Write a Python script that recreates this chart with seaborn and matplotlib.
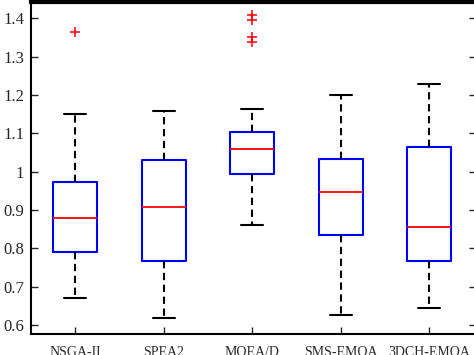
import numpy as np
import pandas as pd
import matplotlib
matplotlib.use("Agg")
import matplotlib.pyplot as plt
import seaborn as sns

categories = ["NSGA-II", "SPEA2", "MOEA/D", "SMS-EMOA", "3DCH-EMOA"]

nsga2 = [0.672, 0.74, 0.791, 0.84, 0.878, 0.93, 0.974, 1.151, 1.364]
spea2 = [0.618, 0.70, 0.768, 0.85, 0.908, 0.97, 1.030, 1.10, 1.159]
moead = [0.860, 0.90, 0.94, 0.96, 0.98, 0.993, 1.01, 1.02, 1.035, 1.05, 1.060,
         1.07, 1.08, 1.09, 1.10, 1.104, 1.163, 1.337, 1.352, 1.395, 1.408]
smsemoa = [0.627, 0.75, 0.834, 0.90, 0.948, 0.99, 1.032, 1.12, 1.200]
dch = [0.646, 0.71, 0.768, 0.81, 0.855, 0.96, 1.065, 1.15, 1.229]

yticks = [0.6, 0.7, 0.8, 0.9, 1.0, 1.1, 1.2, 1.3, 1.4]
ytick_labels = ["0.6", "0.7", "0.8", "0.9", "1", "1.1", "1.2", "1.3", "1.4"]

groups = [nsga2, spea2, moead, smsemoa, dch]
df = pd.DataFrame({
    "algorithm": np.concatenate([[c] * len(g) for c, g in zip(categories, groups)]),
    "value": np.concatenate(groups),
})

sns.set_style("white")
plt.rcParams["font.family"] = ["Liberation Serif", "DejaVu Serif"]

fig = plt.figure(figsize=(4.74, 3.55), dpi=100)
ax = fig.add_axes([31 / 474, 21 / 355, 445 / 474, 332 / 355])

sns.boxplot(
    data=df, x="algorithm", y="value", order=categories, ax=ax,
    width=0.5, fill=False, color="blue", linewidth=1.5, whis=1.5,
    boxprops=dict(color="blue", linewidth=1.5),
    medianprops=dict(color="red", linewidth=1.3),
    whiskerprops=dict(color="black", linestyle=(0, (3.5, 2.2)), linewidth=1.5),
    capprops=dict(color="black", linewidth=1.5),
    flierprops=dict(marker="+", markeredgecolor="red", markerfacecolor="red",
                    markersize=7, markeredgewidth=1.1),
)

ax.set_xlim(-0.5, 4.53)
ax.set_ylim(0.577, 1.442)
ax.set_yticks(yticks)
ax.set_yticklabels(ytick_labels)
ax.set_xlabel("")
ax.set_ylabel("")

for side in ["left", "bottom", "right"]:
    ax.spines[side].set_linewidth(1.5)
    ax.spines[side].set_color("black")
ax.spines["top"].set_linewidth(3)
ax.spines["top"].set_color("black")

ax.tick_params(axis="y", which="both", direction="in", left=True, right=True,
               length=5, width=1, labelsize=12, pad=5)
ax.tick_params(axis="x", which="both", direction="in", bottom=True, top=False,
               length=5, width=1, labelsize=10, pad=9)

fig.savefig("out.png", dpi=100)
